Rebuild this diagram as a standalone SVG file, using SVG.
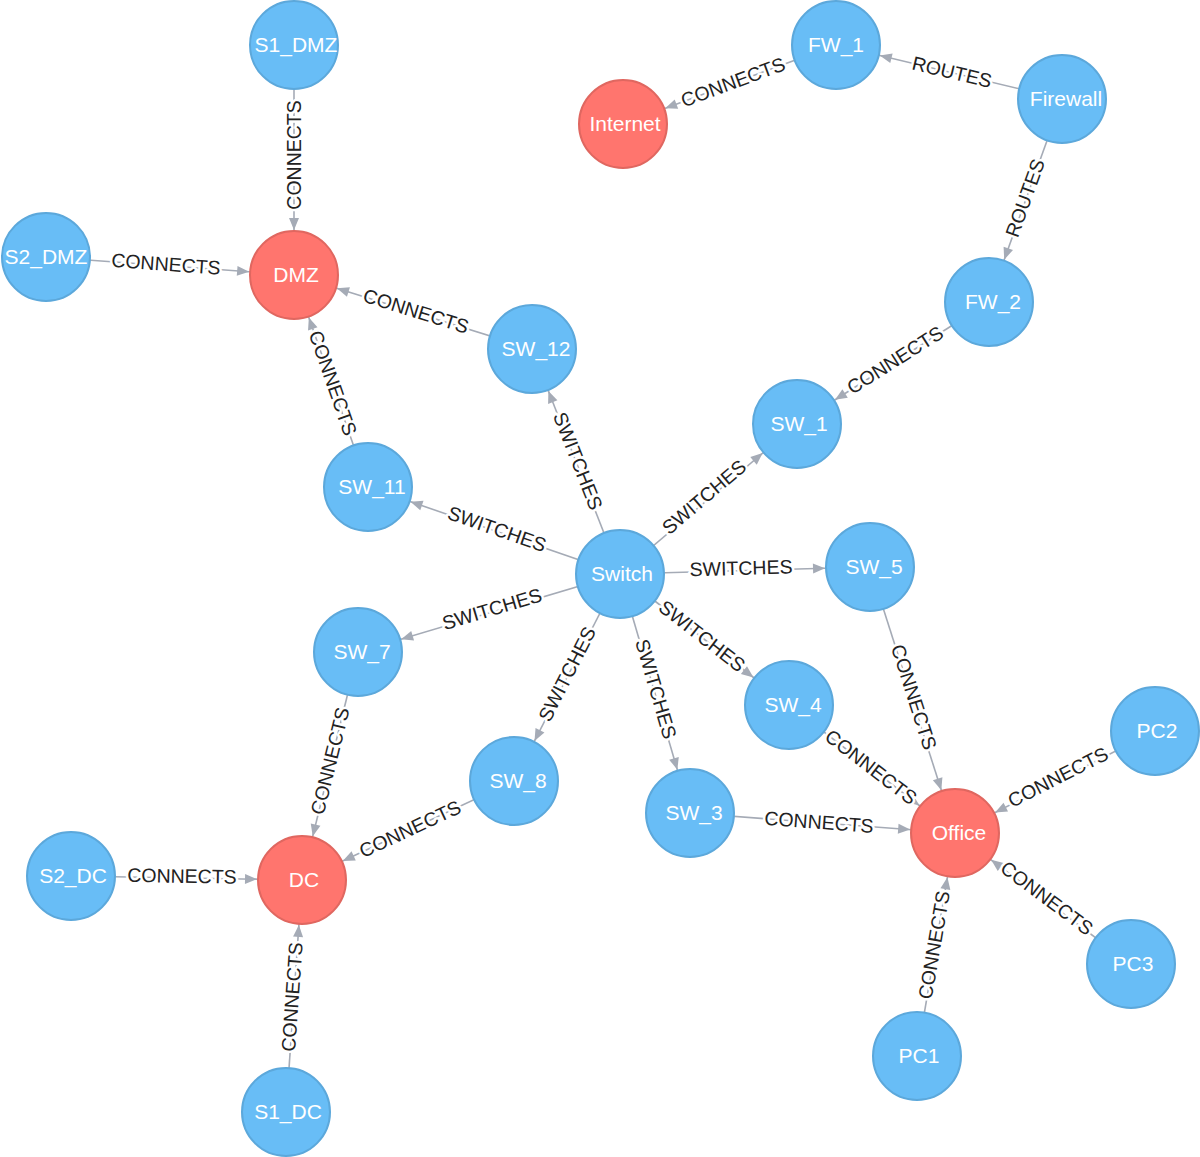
<svg xmlns="http://www.w3.org/2000/svg" width="1200" height="1157" viewBox="0 0 1200 1157">
<style>
.e line{stroke:#A5ABB6;stroke-width:1.6;marker-end:url(#arr)}
.e text{font-family:"Liberation Sans","DejaVu Sans",sans-serif;font-size:19.5px;fill:#222;text-anchor:middle;stroke:#fff;stroke-width:5;paint-order:stroke;stroke-linejoin:round}
.n circle{stroke-width:2}
.b circle{fill:#68BDF6;stroke:#5CA8DB}
.r circle{fill:#FF756E;stroke:#E06760}
.n text{font-family:"Liberation Sans","DejaVu Sans",sans-serif;font-size:21px;fill:#fff;text-anchor:middle}
</style>
<defs>
<marker id="arr" markerUnits="userSpaceOnUse" markerWidth="12" markerHeight="10" refX="57" refY="5" orient="auto" overflow="visible"><path d="M0,0 L12,5 L0,10 Z" fill="#A5ABB6"/></marker>
</defs>
<rect width="1200" height="1157" fill="#fff"/>
<g id="edges" class="e">
<line x1="294" y1="45" x2="294" y2="275"/>
<line x1="46" y1="257" x2="294" y2="275"/>
<line x1="532" y1="349" x2="294" y2="275"/>
<line x1="368" y1="487" x2="294" y2="275"/>
<line x1="836" y1="45" x2="623" y2="124"/>
<line x1="1062" y1="99" x2="836" y2="45"/>
<line x1="1062" y1="99" x2="989" y2="302"/>
<line x1="989" y1="302" x2="797" y2="424"/>
<line x1="620" y1="574" x2="797" y2="424"/>
<line x1="620" y1="574" x2="532" y2="349"/>
<line x1="620" y1="574" x2="368" y2="487"/>
<line x1="620" y1="574" x2="870" y2="567"/>
<line x1="620" y1="574" x2="358" y2="652"/>
<line x1="620" y1="574" x2="514" y2="781"/>
<line x1="620" y1="574" x2="690" y2="813"/>
<line x1="620" y1="574" x2="789" y2="705"/>
<line x1="870" y1="567" x2="955" y2="833"/>
<line x1="789" y1="705" x2="955" y2="833"/>
<line x1="690" y1="813" x2="955" y2="833"/>
<line x1="1155" y1="731" x2="955" y2="833"/>
<line x1="1131" y1="964" x2="955" y2="833"/>
<line x1="917" y1="1056" x2="955" y2="833"/>
<line x1="358" y1="652" x2="302" y2="880"/>
<line x1="514" y1="781" x2="302" y2="880"/>
<line x1="71" y1="876" x2="302" y2="880"/>
<line x1="286" y1="1112" x2="302" y2="880"/>
<text transform="translate(294,155) rotate(-90)" dy=".35em">CONNECTS</text>
<text transform="translate(166,264) rotate(4.2)" dy=".35em">CONNECTS</text>
<text transform="translate(416,311) rotate(17.3)" dy=".35em">CONNECTS</text>
<text transform="translate(333,383) rotate(70.8)" dy=".35em">CONNECTS</text>
<text transform="translate(733,82) rotate(-20.3)" dy=".35em">CONNECTS</text>
<text transform="translate(952,72) rotate(13.4)" dy=".35em">ROUTES</text>
<text transform="translate(1025,198) rotate(-70.2)" dy=".35em">ROUTES</text>
<text transform="translate(895,360) rotate(-32.4)" dy=".35em">CONNECTS</text>
<text transform="translate(704,497) rotate(-40.3)" dy=".35em">SWITCHES</text>
<text transform="translate(578,461) rotate(68.6)" dy=".35em">SWITCHES</text>
<text transform="translate(497,529) rotate(19.1)" dy=".35em">SWITCHES</text>
<text transform="translate(741,568) rotate(-1.6)" dy=".35em">SWITCHES</text>
<text transform="translate(492,609) rotate(-16.6)" dy=".35em">SWITCHES</text>
<text transform="translate(567,674) rotate(-62.9)" dy=".35em">SWITCHES</text>
<text transform="translate(656,689) rotate(73.7)" dy=".35em">SWITCHES</text>
<text transform="translate(702,636) rotate(37.8)" dy=".35em">SWITCHES</text>
<text transform="translate(914,697) rotate(72.3)" dy=".35em">CONNECTS</text>
<text transform="translate(871,767) rotate(37.6)" dy=".35em">CONNECTS</text>
<text transform="translate(819,822) rotate(4.3)" dy=".35em">CONNECTS</text>
<text transform="translate(1058,777) rotate(-27)" dy=".35em">CONNECTS</text>
<text transform="translate(1047,898) rotate(36.7)" dy=".35em">CONNECTS</text>
<text transform="translate(934,945) rotate(-80.3)" dy=".35em">CONNECTS</text>
<text transform="translate(330,761) rotate(-76.2)" dy=".35em">CONNECTS</text>
<text transform="translate(410,829) rotate(-25)" dy=".35em">CONNECTS</text>
<text transform="translate(182,876) rotate(1)" dy=".35em">CONNECTS</text>
<text transform="translate(292,997) rotate(-86)" dy=".35em">CONNECTS</text>
</g>
<g id="S1_DMZ" class="n b"><circle cx="294" cy="45" r="44"/><text x="296" y="52">S1_DMZ</text></g>
<g id="FW_1" class="n b"><circle cx="836" cy="45" r="44"/><text x="836" y="52">FW_1</text></g>
<g id="Internet" class="n r"><circle cx="623" cy="124" r="44"/><text x="625" y="131">Internet</text></g>
<g id="Firewall" class="n b"><circle cx="1062" cy="99" r="44"/><text x="1066" y="106">Firewall</text></g>
<g id="S2_DMZ" class="n b"><circle cx="46" cy="257" r="44"/><text x="46" y="264">S2_DMZ</text></g>
<g id="DMZ" class="n r"><circle cx="294" cy="275" r="44"/><text x="296" y="282">DMZ</text></g>
<g id="SW_12" class="n b"><circle cx="532" cy="349" r="44"/><text x="536" y="356">SW_12</text></g>
<g id="FW_2" class="n b"><circle cx="989" cy="302" r="44"/><text x="993" y="309">FW_2</text></g>
<g id="SW_1" class="n b"><circle cx="797" cy="424" r="44"/><text x="799" y="431">SW_1</text></g>
<g id="SW_11" class="n b"><circle cx="368" cy="487" r="44"/><text x="372" y="494">SW_11</text></g>
<g id="Switch" class="n b"><circle cx="620" cy="574" r="44"/><text x="622" y="581">Switch</text></g>
<g id="SW_5" class="n b"><circle cx="870" cy="567" r="44"/><text x="874" y="574">SW_5</text></g>
<g id="SW_7" class="n b"><circle cx="358" cy="652" r="44"/><text x="362" y="659">SW_7</text></g>
<g id="SW_4" class="n b"><circle cx="789" cy="705" r="44"/><text x="793" y="712">SW_4</text></g>
<g id="SW_8" class="n b"><circle cx="514" cy="781" r="44"/><text x="518" y="788">SW_8</text></g>
<g id="SW_3" class="n b"><circle cx="690" cy="813" r="44"/><text x="694" y="820">SW_3</text></g>
<g id="Office" class="n r"><circle cx="955" cy="833" r="44"/><text x="959" y="840">Office</text></g>
<g id="PC2" class="n b"><circle cx="1155" cy="731" r="44"/><text x="1157" y="738">PC2</text></g>
<g id="DC" class="n r"><circle cx="302" cy="880" r="44"/><text x="304" y="887">DC</text></g>
<g id="S2_DC" class="n b"><circle cx="71" cy="876" r="44"/><text x="73" y="883">S2_DC</text></g>
<g id="PC3" class="n b"><circle cx="1131" cy="964" r="44"/><text x="1133" y="971">PC3</text></g>
<g id="PC1" class="n b"><circle cx="917" cy="1056" r="44"/><text x="919" y="1063">PC1</text></g>
<g id="S1_DC" class="n b"><circle cx="286" cy="1112" r="44"/><text x="288" y="1119">S1_DC</text></g>
</svg>
